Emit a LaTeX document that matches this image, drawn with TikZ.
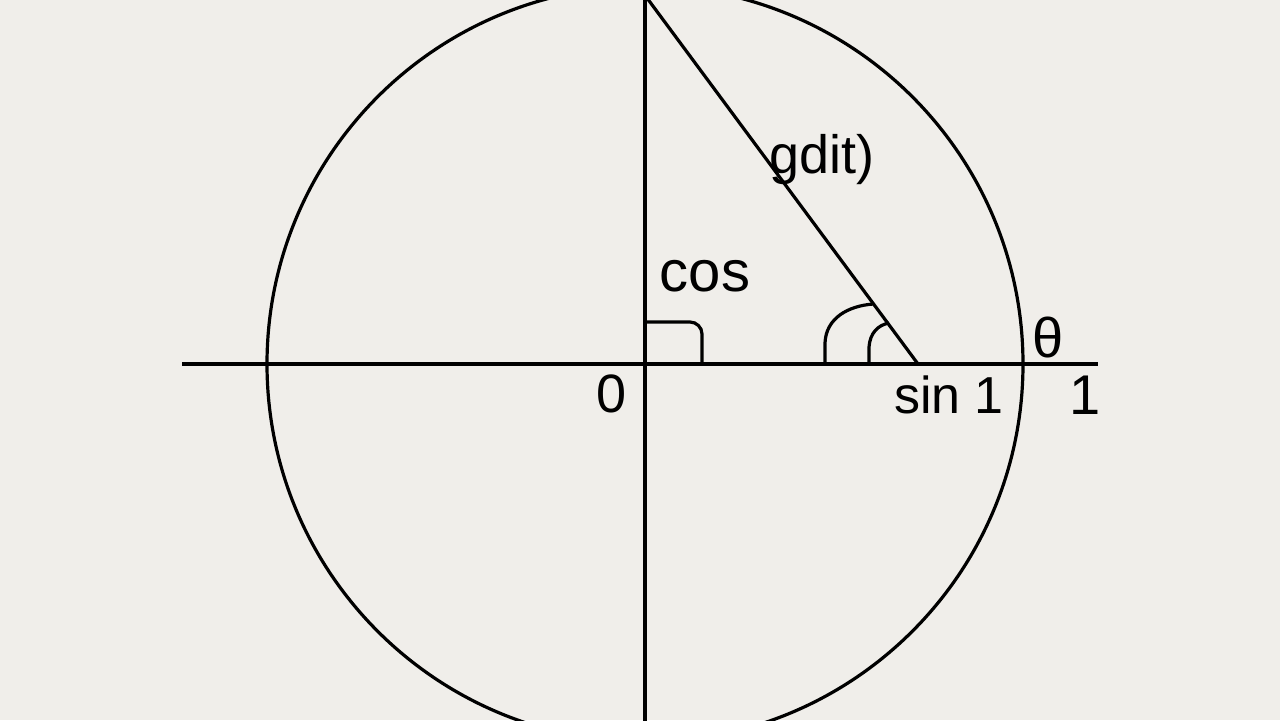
\documentclass[tikz,border=0pt]{standalone}
\usepackage{fontspec}
\setmainfont{Liberation Sans}
\definecolor{paper}{HTML}{F0EEEA}
\begin{document}
\begin{tikzpicture}[x=0.5pt,y=-0.5pt,
  ln/.style={line width=1.6pt,draw=black},
  lbl/.style={inner sep=0pt,text=black}]
\fill[paper] (0,0) rectangle (1280,720);
\useasboundingbox (0,0) rectangle (1280,720);
\begin{scope}
\clip (0,0) rectangle (1280,720);
\coordinate (O) at (645,364);
\coordinate (P) at (918,364);
\coordinate (T) at (647,-2);
\coordinate (L) at (182,364);
\coordinate (R) at (1098,364);
\coordinate (U) at (645,-5);
\coordinate (D) at (645,725);
\draw[ln] (O) circle[radius=378];
\draw[ln] (L) -- (R);
\draw[ln] (U) -- (D);
\draw[ln] (P) -- (T);
% right angle mark
\draw[ln,rounded corners=6] (647,322) -- (702,322) -- (702,364);
% angle arcs
\draw[ln] (825,364) -- (825,343) .. controls (826,318) and (848,306) .. (873,304);
\draw[ln] (869,364) -- (869,347) .. controls (870,333) and (878,325) .. (889,323);
\end{scope}
\node[lbl,font=\fontsize{27}{27}\selectfont] (g) at (822,160) {gdit)};
\node[lbl,font=\fontsize{29}{29}\selectfont] (c) at (705,276) {cos};
\node[lbl,font=\fontsize{27}{27}\selectfont] (z) at (612,394) {0};
\node[lbl,font=\fontsize{26}{26}\selectfont] (s) at (949,395) {sin 1};
\node[lbl,font=\fontsize{28}{28}\selectfont] (o) at (1085,395) {1};
\node[lbl,font=\fontsize{28}{28}\selectfont] (t) at (1048,337) {θ};
\end{tikzpicture}
\end{document}
